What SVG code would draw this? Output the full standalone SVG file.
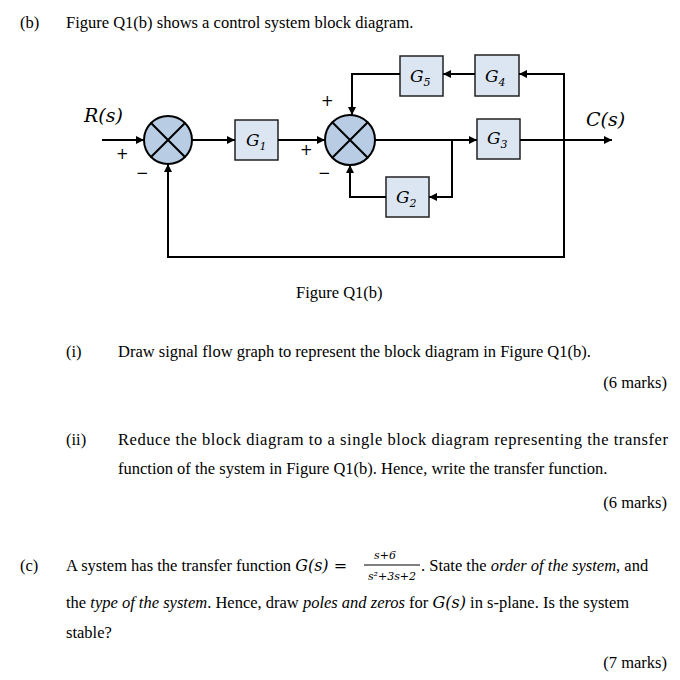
<svg xmlns="http://www.w3.org/2000/svg" width="680" height="680" viewBox="0 0 680 680">
<defs><marker id="a" viewBox="0 0 10 10" refX="10" refY="5" markerWidth="8" markerHeight="8" orient="auto" markerUnits="userSpaceOnUse"><path d="M0,0L10,5L0,10z" fill="#000"/></marker></defs>
<style>
.t{font-family:"Liberation Serif",serif;font-size:16.5px;fill:#000}
.m{font-family:"DejaVu Serif",serif;font-style:italic}
.b{fill:#dce6f2;stroke:#222;stroke-width:1.5}
.s{fill:#b8cce4;stroke:#000;stroke-width:2}
.l{fill:none;stroke:#000;stroke-width:2}
.p{font-family:"DejaVu Sans",sans-serif;font-size:15px}
</style>
<rect width="680" height="680" fill="#fff"/>
<text class="t" x="20" y="28">(b)</text>
<text class="t" x="66" y="28">Figure Q1(b) shows a control system block diagram.</text>
<g id="sum1"><circle class="s" cx="168" cy="140" r="24"/><path class="l" d="M151,123L185,157M185,123L151,157"/></g>
<g id="sum2"><circle class="s" cx="350" cy="140" r="25"/><path class="l" d="M332,122L368,158M368,122L332,158"/></g>
<g id="G1"><rect class="b" x="235" y="120" width="43" height="40"/><text class="m" x="246" y="146" font-size="17">G<tspan font-size="11" dy="4">1</tspan></text></g>
<g id="G5"><rect class="b" x="400" y="56" width="43" height="40"/><text class="m" x="410" y="82" font-size="17">G<tspan font-size="11" dy="4">5</tspan></text></g>
<g id="G4"><rect class="b" x="475" y="55" width="44" height="41"/><text class="m" x="485" y="82" font-size="17">G<tspan font-size="11" dy="4">4</tspan></text></g>
<g id="G3"><rect class="b" x="477" y="119" width="43" height="40"/><text class="m" x="487" y="144" font-size="17">G<tspan font-size="11" dy="4">3</tspan></text></g>
<g id="G2"><rect class="b" x="386" y="177" width="43" height="40"/><text class="m" x="396" y="203" font-size="17">G<tspan font-size="11" dy="4">2</tspan></text></g>
<g id="connectors">
<path class="l" d="M102,140H144" marker-end="url(#a)"/>
<path class="l" d="M192,140H235" marker-end="url(#a)"/>
<path class="l" d="M278,140H325" marker-end="url(#a)"/>
<path class="l" d="M375,140H477" marker-end="url(#a)"/>
<path class="l" d="M520,140H612" marker-end="url(#a)"/>
<path class="l" d="M564,140V74H519" marker-end="url(#a)"/>
<path class="l" d="M475,74H443" marker-end="url(#a)"/>
<path class="l" d="M400,74H352V115" marker-end="url(#a)"/>
<path class="l" d="M452,140V197H429" marker-end="url(#a)"/>
<path class="l" d="M386,197H350V165" marker-end="url(#a)"/>
<path class="l" d="M564,140V257H168V164" marker-end="url(#a)"/>
</g>
<text class="m" x="84" y="122" font-size="19">R(s)</text>
<text class="m" x="586" y="126" font-size="19">C(s)</text>
<text class="p" x="116" y="159">+</text>
<text class="p" x="136" y="178">−</text>
<text class="p" x="300" y="155">+</text>
<text class="p" x="318" y="178">−</text>
<text class="p" x="321" y="106">+</text>
<text class="t" x="296" y="298">Figure Q1(b)</text>
<text class="t" x="66" y="357">(i)</text>
<text class="t" x="118" y="357">Draw signal flow graph to represent the block diagram in Figure Q1(b).</text>
<text class="t" x="667" y="388" text-anchor="end">(6 marks)</text>
<text class="t" x="66" y="445">(ii)</text>
<text class="t" x="118" y="445" textLength="550">Reduce the block diagram to a single block diagram representing the transfer</text>
<text class="t" x="118" y="474">function of the system in Figure Q1(b). Hence, write the transfer function.</text>
<text class="t" x="667" y="508" text-anchor="end">(6 marks)</text>
<text class="t" x="20" y="571">(c)</text>
<text class="t" x="66" y="571">A system has the transfer function <tspan class="m" font-size="16">G(s) =</tspan></text>
<text class="m" x="385" y="559" font-size="11" text-anchor="middle">s+6</text>
<line x1="364" y1="565" x2="420" y2="565" stroke="#000" stroke-width="1.2"/>
<text class="m" x="392" y="580" font-size="11" text-anchor="middle">s²+3s+2</text>
<text class="t" x="421" y="571">. State the <tspan font-style="italic">order of the system</tspan>, and</text>
<text class="t" x="66" y="608">the <tspan font-style="italic">type of the system</tspan>. Hence, draw <tspan font-style="italic">poles and zeros</tspan> for <tspan class="m" font-size="16">G(s)</tspan> in s-plane. Is the system</text>
<text class="t" x="66" y="638">stable?</text>
<text class="t" x="667" y="668" text-anchor="end">(7 marks)</text>
</svg>
